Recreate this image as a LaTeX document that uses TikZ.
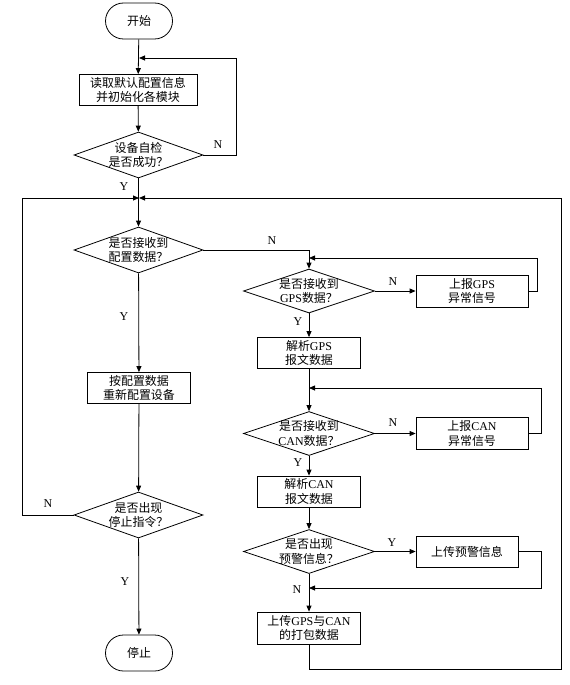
\documentclass[tikz,border=0pt]{standalone}
\usepackage{fontspec}
\setmainfont{Liberation Serif}
\newfontfamily\cjk{Noto Sans CJK SC}
\newcommand{\lat}[1]{{\rmfamily #1}}
\usetikzlibrary{arrows.meta,positioning,shapes.geometric,shapes.misc}

\begin{document}
\begin{tikzpicture}[x=1bp, y=-1bp,
  line width=0.8bp,
  txt/.style={font=\cjk\fontsize{12}{14.5}\selectfont, align=center, inner sep=0pt},
  term/.style={draw, rounded rectangle, minimum width=67bp, minimum height=36bp, txt},
  box/.style={draw, rectangle, minimum height=31bp, inner sep=0pt, txt},
  dec/.style={draw, diamond, minimum width=129bp, minimum height=46bp, inner sep=0pt,
    label={[txt]center:#1}},
  sdec/.style={dec=#1, minimum width=131bp, minimum height=44bp},
  lbl/.style={font=\fontsize{12}{14}\selectfont, inner sep=0pt},
  arrow/.style={-{Triangle[length=6bp,width=5bp]}, line width=0.8bp}
]
\useasboundingbox (0,0) rectangle (570,685);

% left column
\node[term] (start) at (139,21) {开始};
\coordinate (j1) at (139,58);
\node[box, minimum width=118bp] (init) at (138,90) {读取默认配置信息\\并初始化各模块};
\node[dec={设备自检\\是否成功？}] (selfchk) at (138.5,155) {};
\coordinate (j2) at (139,198);
\node[dec={是否接收到\\配置数据？}] (cfg) at (138.5,250) {};
\node[box, minimum width=103bp] (reconf) at (139,388) {按配置数据\\重新配置设备};
\node[dec={是否出现\\停止指令？}] (halt) at (138.5,515) {};
\node[term] (end) at (139,653) {停止};

% right column
\coordinate (j3) at (309,258);
\node[sdec={是否接收到\\\lat{GPS}数据？}] (gps) at (309,291) {};
\node[box, minimum width=112bp, minimum height=32bp] (gpserr) at (472,291) {上报\lat{GPS}\\异常信号};
\node[box, minimum width=103bp] (gpsparse) at (309,353) {解析\lat{GPS}\\报文数据};
\coordinate (j4) at (309,388);
\node[sdec={是否接收到\\\lat{CAN}数据？}] (can) at (309,433.5) {};
\node[box, minimum width=112bp, minimum height=32bp] (canerr) at (472,433.5) {上报\lat{CAN}\\异常信号};
\node[box, minimum width=103bp] (canparse) at (309,491.5) {解析\lat{CAN}\\报文数据};
\node[sdec={是否出现\\预警信息？}] (warn) at (309,551.5) {};
\node[box, minimum width=102bp] (warnup) at (467,551.5) {上传预警信息};
\coordinate (j5) at (309,588);
\node[box, minimum width=103bp, minimum height=32bp] (pack) at (309,628) {上传\lat{GPS}与\lat{CAN}\\的打包数据};

% connectors
\draw[arrow] (start) -- (init);
\draw[arrow] (init) -- (selfchk);
\draw[arrow] (selfchk.east) -- ++(33,0) |- (j1);
\draw[arrow] (selfchk) -- (cfg);
\draw[arrow] (cfg.east) -| (gps.north);
\draw[arrow] (cfg) -- (reconf);
\draw[arrow] (reconf) -- (halt);
\draw[arrow] (halt.west) -- ++(-51,0) |- (j2);
\draw[arrow] (halt) -- (end);
\draw[arrow] (gps) -- (gpserr);
\draw[arrow] (gpserr.east) -- ++(9,0) |- (j3);
\draw[arrow] (gps) -- (gpsparse);
\draw[arrow] (gpsparse) -- (can);
\draw[arrow] (can) -- (canerr);
\draw[arrow] (canerr.east) -- ++(13,0) |- (j4);
\draw[arrow] (can) -- (canparse);
\draw[arrow] (canparse) -- (warn);
\draw[arrow] (warn) -- (warnup);
\draw[arrow] (warnup.east) -- ++(23,0) |- (j5);
\draw[arrow] (warn) -- (pack);
\draw[arrow] (pack.south) -- ++(0,25) -- ++(252,0) |- (j2);

% branch labels
\node[lbl] (n1) at (218,145) {N};
\node[lbl] (y1) at (124,187) {Y};
\node[lbl] (n2) at (272,241) {N};
\node[lbl] (y2) at (124,317) {Y};
\node[lbl] (n3) at (48,504) {N};
\node[lbl] (y3) at (125,582) {Y};
\node[lbl] (n4) at (393,282) {N};
\node[lbl] (y4) at (298,322) {Y};
\node[lbl] (n5) at (393,423) {N};
\node[lbl] (y5) at (298,463) {Y};
\node[lbl] (y6) at (392,543) {Y};
\node[lbl] (n6) at (297,590) {N};
\end{tikzpicture}
\end{document}
